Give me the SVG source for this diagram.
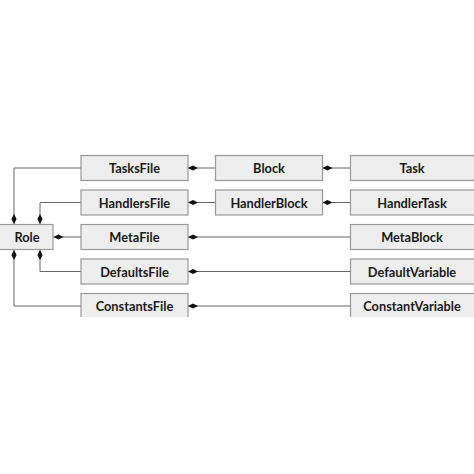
<svg xmlns="http://www.w3.org/2000/svg" width="474" height="474" viewBox="0 0 474 474">
<style>
.box{fill:#eeeeee;stroke:#999999;stroke-width:1.2}
.lbl{font-family:Lato,"Liberation Sans",sans-serif;font-weight:bold;font-size:12.8px;fill:#1a1a1a;text-anchor:middle;dominant-baseline:central}
.ln{fill:none;stroke:#666666;stroke-width:1}
.dm{fill:#111111}
</style>
<defs>
<clipPath id="clip"><rect x="0" y="0" width="474" height="317"/></clipPath>
<path id="dh" d="M-5,0 L0,-2.6 L5,0 L0,2.6 Z"/>
<path id="dv" d="M0,-5 L2.6,0 L0,5 L-2.6,0 Z"/>
</defs>
<rect width="474" height="474" fill="#ffffff"/>
<g id="connectors" clip-path="url(#clip)">
<path class="ln" d="M81,168 H14 V224"/>
<path class="ln" d="M81,202.5 H40 V224"/>
<path class="ln" d="M53,237 H81"/>
<path class="ln" d="M40,250 V271.5 H81"/>
<path class="ln" d="M14,250 V306 H81"/>
<path class="ln" d="M188,168 H215.5"/>
<path class="ln" d="M188,202.5 H215.5"/>
<path class="ln" d="M322.5,168 H350.5"/>
<path class="ln" d="M322.5,202.5 H350.5"/>
<path class="ln" d="M188,237 H350.5"/>
<path class="ln" d="M188,271.5 H350.5"/>
<path class="ln" d="M188,306 H350.5"/>
<use href="#dv" class="dm" x="14" y="219"/>
<use href="#dv" class="dm" x="40" y="219"/>
<use href="#dv" class="dm" x="14" y="255"/>
<use href="#dv" class="dm" x="40" y="255"/>
<use href="#dh" class="dm" x="58.5" y="237"/>
<use href="#dh" class="dm" x="193" y="168"/>
<use href="#dh" class="dm" x="193" y="202.5"/>
<use href="#dh" class="dm" x="193" y="237"/>
<use href="#dh" class="dm" x="193" y="271.5"/>
<use href="#dh" class="dm" x="193" y="306"/>
<use href="#dh" class="dm" x="327.5" y="168"/>
<use href="#dh" class="dm" x="327.5" y="202.5"/>
</g>
<g clip-path="url(#clip)">
<g id="role"><rect class="box" x="-2" y="224.5" width="55" height="25"/><text class="lbl" x="27" y="237">Role</text></g>
<g id="tasksfile"><rect class="box" x="81" y="155.5" width="107" height="25"/><text class="lbl" x="134.5" y="168">TasksFile</text></g>
<g id="handlersfile"><rect class="box" x="81" y="190" width="107" height="25"/><text class="lbl" x="134.5" y="202.5">HandlersFile</text></g>
<g id="metafile"><rect class="box" x="81" y="224.5" width="107" height="25"/><text class="lbl" x="134.5" y="237">MetaFile</text></g>
<g id="defaultsfile"><rect class="box" x="81" y="259" width="107" height="25"/><text class="lbl" x="134.5" y="271.5">DefaultsFile</text></g>
<g id="constantsfile"><rect class="box" x="81" y="293.5" width="107" height="30"/><text class="lbl" x="134.5" y="306">ConstantsFile</text></g>
<g id="block"><rect class="box" x="215.5" y="155.5" width="107" height="25"/><text class="lbl" x="269" y="168">Block</text></g>
<g id="handlerblock"><rect class="box" x="215.5" y="190" width="107" height="25"/><text class="lbl" x="269" y="202.5">HandlerBlock</text></g>
<g id="task"><rect class="box" x="350.5" y="155.5" width="130" height="25"/><text class="lbl" x="412" y="168">Task</text></g>
<g id="handlertask"><rect class="box" x="350.5" y="190" width="130" height="25"/><text class="lbl" x="412" y="202.5">HandlerTask</text></g>
<g id="metablock"><rect class="box" x="350.5" y="224.5" width="130" height="25"/><text class="lbl" x="412" y="237">MetaBlock</text></g>
<g id="defaultvariable"><rect class="box" x="350.5" y="259" width="130" height="25"/><text class="lbl" x="412" y="271.5">DefaultVariable</text></g>
<g id="constantvariable"><rect class="box" x="350.5" y="293.5" width="130" height="30"/><text class="lbl" x="412" y="306">ConstantVariable</text></g>
</g>
</svg>
